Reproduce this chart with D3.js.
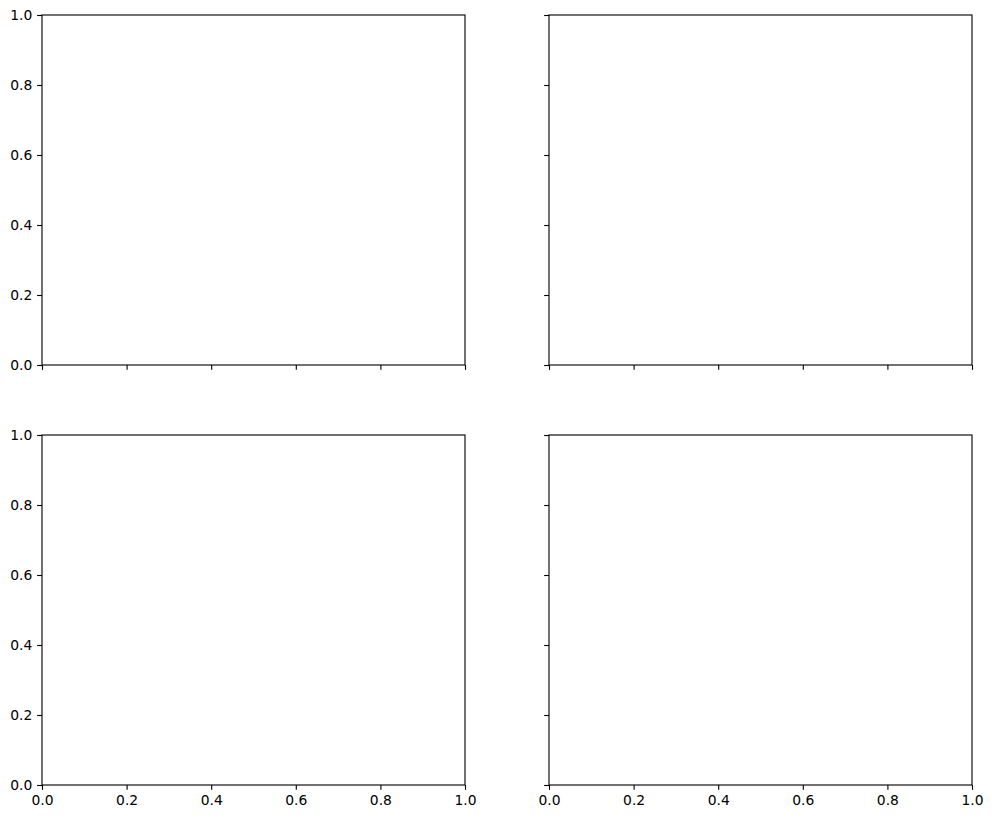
<!DOCTYPE html>
<html>
<head>
<meta charset="utf-8">
<script src="https://cdn.jsdelivr.net/npm/d3@7"></script>
<style>
  body { margin: 0; background: #fff; }
  svg text { font-family: "DejaVu Sans", sans-serif; fill: #000; }
</style>
</head>
<body>
<div id="chart"></div>
<script>
// tick values shared by every panel (empty 2x2 grid, sharex/sharey)
const xTicks = [0, 0.2, 0.4, 0.6, 0.8, 1.0];
const yTicks = [0, 0.2, 0.4, 0.6, 0.8, 1.0];
const xDomain = [0, 1];
const yDomain = [0, 1];

const width = 992, height = 819;
const pt = 100 / 72;   // figure drawn at 100 dpi

// panel boxes in pixels
const cols = [{left: 42, right: 465}, {left: 549, right: 972}];
const rows = [{top: 15, bottom: 365}, {top: 435, bottom: 785}];

const svg = d3.select("#chart").append("svg")
    .attr("width", width)
    .attr("height", height);

rows.forEach((r, ri) => {
    cols.forEach((c, ci) => {
        let x = d3.scaleLinear().domain(xDomain).range([c.left, c.right]);
        let y = d3.scaleLinear().domain(yDomain).range([r.bottom, r.top]);

        let g = svg.append("g").attr("class", "panel");

        // x axis: labels only on bottom row
        let xAxis = d3.axisBottom(x)
            .tickValues(xTicks)
            .tickSize(3.5 * pt)
            .tickPadding(3.5 * pt)
            .tickFormat(ri === 1 ? d3.format(".1f") : "");
        g.append("g")
            .attr("transform", `translate(0,${r.bottom})`)
            .call(xAxis)
            .call(a => a.select(".domain").remove());

        // y axis: labels only on left column
        let yAxis = d3.axisLeft(y)
            .tickValues(yTicks)
            .tickSize(3.5 * pt)
            .tickPadding(3.5 * pt)
            .tickFormat(ci === 0 ? d3.format(".1f") : "");
        g.append("g")
            .attr("transform", `translate(${c.left},0)`)
            .call(yAxis)
            .call(a => a.select(".domain").remove());

        g.selectAll(".tick line").attr("stroke", "#000").attr("stroke-width", 0.8 * pt);
        g.selectAll(".tick text")
            .style("font-size", (10 * pt) + "px")
            .style("font-family", "DejaVu Sans, sans-serif")
            .attr("fill", "#000");

        // frame
        g.append("rect")
            .attr("x", c.left)
            .attr("y", r.top)
            .attr("width", c.right - c.left)
            .attr("height", r.bottom - r.top)
            .attr("fill", "none")
            .attr("stroke", "#000")
            .attr("stroke-width", 0.8 * pt);
    });
});
</script>
</body>
</html>
